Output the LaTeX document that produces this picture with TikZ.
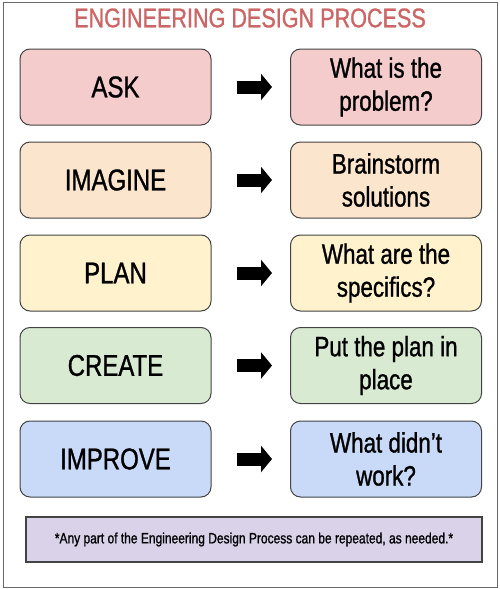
\documentclass[tikz,border=0pt]{standalone}
\usepackage{fontspec}
\setmainfont{Liberation Sans}[FakeStretch=0.8, FakeBold=1]
\usetikzlibrary{arrows.meta}

\definecolor{titlered}{RGB}{204,102,102}
\definecolor{boxline}{RGB}{67,67,67}
\definecolor{askfill}{RGB}{244,204,204}
\definecolor{imaginefill}{RGB}{252,229,205}
\definecolor{planfill}{RGB}{255,242,204}
\definecolor{createfill}{RGB}{217,234,211}
\definecolor{improvefill}{RGB}{201,218,248}
\definecolor{notefill}{RGB}{217,210,233}

\tikzset{
	stage/.style={draw=boxline, line width=1pt, rounded corners=10pt,
		minimum width=191pt, minimum height=76pt, align=center, inner sep=2pt},
	stepname/.style={stage, font=\fontsize{30}{34}\selectfont},
	question/.style={stage, font=\fontsize{28}{33}\selectfont},
	bigarrow/.style={line width=13pt, -{Triangle[length=11pt,width=26pt]},
		shorten <=25pt, shorten >=18pt}
}

\begin{document}
\begin{tikzpicture}[x=1pt,y=-1pt]
		\useasboundingbox (0,0) rectangle (500,589);
		
		% Frame
		\draw[draw=boxline!80, line width=1pt] (3,2) rectangle (497,587);
		
		% Title
		\node[text=titlered, font=\fontsize{27}{30}\selectfont] (title) at (250,18) {ENGINEERING DESIGN PROCESS};
		
		% Ask
		\node[stepname, fill=askfill] (ask) at (115.5,87) {ASK};
		\node[question, fill=askfill] (askq) at (386,87) {What is the\\problem?};
		
		% Imagine
		\node[stepname, fill=imaginefill] (imagine) at (115.5,180) {IMAGINE};
		\node[question, fill=imaginefill] (imagineq) at (386,180) {Brainstorm\\solutions};
		
		% Plan
		\node[stepname, fill=planfill] (plan) at (115.5,273) {PLAN};
		\node[question, fill=planfill] (planq) at (386,273) {What are the\\specifics?};
		
		% Create
		\node[stepname, fill=createfill] (create) at (115.5,365.5) {CREATE};
		\node[question, fill=createfill] (createq) at (386,365.5) {Put the plan in\\place};
		
		% Improve
		\node[stepname, fill=improvefill] (improve) at (115.5,459) {IMPROVE};
		\node[question, fill=improvefill] (improveq) at (386,459) {What didn’t\\work?};
		
		% Arrows from step to question
		\draw[bigarrow] (ask) -- (askq);
		\draw[bigarrow] (imagine) -- (imagineq);
		\draw[bigarrow] (plan) -- (planq);
		\draw[bigarrow] (create) -- (createq);
		\draw[bigarrow] (improve) -- (improveq);
		
		% Note
		\node[draw=boxline, line width=1.5pt, fill=notefill, minimum width=456pt, minimum height=45pt,
			font=\fontsize{15}{18}\selectfont] (note) at (254,539.5)
			{*Any part of the Engineering Design Process can be repeated, as needed.*};
	\end{tikzpicture}
\end{document}
